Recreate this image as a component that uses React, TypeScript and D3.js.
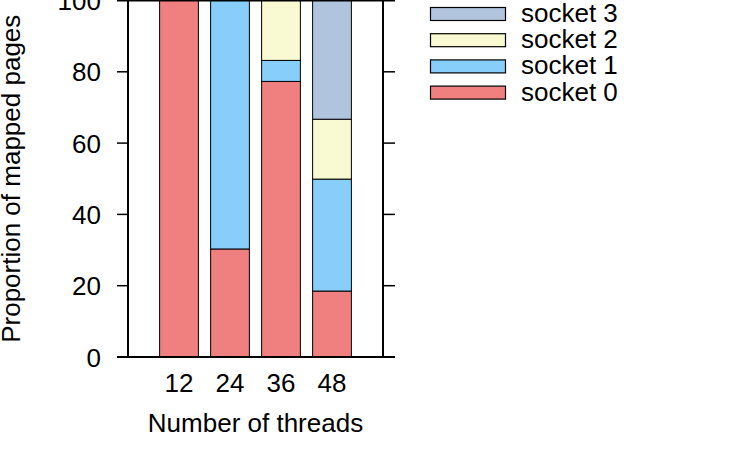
import { FC } from "react";
import * as d3 from "d3";

const WIDTH = 748;
const HEIGHT = 471;

const threads = ["12", "24", "36", "48"];
const socket0 = [100, 30.3, 77.3, 18.5];
const socket1 = [0, 69.7, 5.9, 31.4];
const socket2 = [0, 0, 16.8, 16.8];
const socket3 = [0, 0, 0, 33.3];
const seriesNames = ["socket 0", "socket 1", "socket 2", "socket 3"];
const seriesColors = ["#f08080", "#87cefa", "#fafad2", "#b0c4de"];
const yTicks = [0, 20, 40, 60, 80, 100];

const FONT = "'Liberation Sans', Arial, Helvetica, sans-serif";

const plot = { left: 128, right: 383, top: 0.5, bottom: 357 };

interface Row {
  threads: string;
  [key: string]: number | string;
}

const App: FC = () => {
  const rows: Row[] = threads.map((t, i) => ({
    threads: t,
    "socket 0": socket0[i],
    "socket 1": socket1[i],
    "socket 2": socket2[i],
    "socket 3": socket3[i],
  }));

  const stack = d3.stack<Row>().keys(seriesNames).value((d, k) => d[k] as number);
  const layers = stack(rows);

  const x = d3.scaleLinear().domain([0, threads.length + 1]).range([plot.left, plot.right]);
  const y = d3.scaleLinear().domain([0, 100]).range([plot.bottom, plot.top]);
  const barW = (x(1) - x(0)) * 0.76;

  return (
    <svg
      width={WIDTH}
      height={HEIGHT}
      style={{ position: "absolute", left: 0, top: 0, background: "#fff" }}
      fontFamily={FONT}
    >
      {/* bars */}
      {layers.map((layer, li) =>
        layer.map((seg, i) => {
          const h = y(seg[0]) - y(seg[1]);
          if (h <= 0) return null;
          return (
            <rect
              key={`${li}-${i}`}
              x={x(i + 1) - barW / 2}
              y={y(seg[1])}
              width={barW}
              height={h}
              fill={seriesColors[li]}
              stroke="#000"
              strokeWidth={1}
            />
          );
        })
      )}

      {/* frame */}
      <g stroke="#000" strokeWidth={2} fill="none">
        <line x1={plot.left} x2={plot.left} y1={plot.top} y2={plot.bottom} />
        <line x1={plot.right} x2={plot.right} y1={plot.top} y2={plot.bottom} />
      </g>
      {yTicks.map((t) => (
        <g key={t}>
          <line x1={plot.left - 11} x2={plot.left} y1={y(t)} y2={y(t)} stroke="#000" strokeWidth={t % 100 === 0 ? 2 : 1.5} />
          <line x1={plot.right} x2={plot.right + 12} y1={y(t)} y2={y(t)} stroke="#000" strokeWidth={t % 100 === 0 ? 2 : 1.5} />
          <text x={101} y={y(t) + 9.5} textAnchor="end" fontSize={26}>
            {t}
          </text>
        </g>
      ))}
      <line x1={plot.left} x2={plot.right} y1={plot.top} y2={plot.top} stroke="#000" strokeWidth={2} />
      <line x1={plot.left} x2={plot.right} y1={plot.bottom} y2={plot.bottom} stroke="#000" strokeWidth={2} />

      {/* x tick labels */}
      {threads.map((t, i) => (
        <text key={t} x={x(i + 1)} y={392} textAnchor="middle" fontSize={26}>
          {t}
        </text>
      ))}

      {/* axis titles */}
      <text x={(plot.left + plot.right) / 2} y={432} textAnchor="middle" fontSize={26}>
        Number of threads
      </text>
      <text
        transform={`translate(20,${(plot.top + plot.bottom) / 2}) rotate(-90)`}
        textAnchor="middle"
        fontSize={26}
      >
        Proportion of mapped pages
      </text>

      {/* legend */}
      {seriesNames
        .map((name, i) => ({ name, color: seriesColors[i] }))
        .reverse()
        .map((s, i) => (
          <g key={s.name} transform={`translate(0,${i * 26.2})`}>
            <rect x={430.5} y={7.5} width={75} height={13} fill={s.color} stroke="#000" strokeWidth={1.2} />
            <text x={521} y={22} fontSize={26}>
              {s.name}
            </text>
          </g>
        ))}
    </svg>
  );
};

export default App;
